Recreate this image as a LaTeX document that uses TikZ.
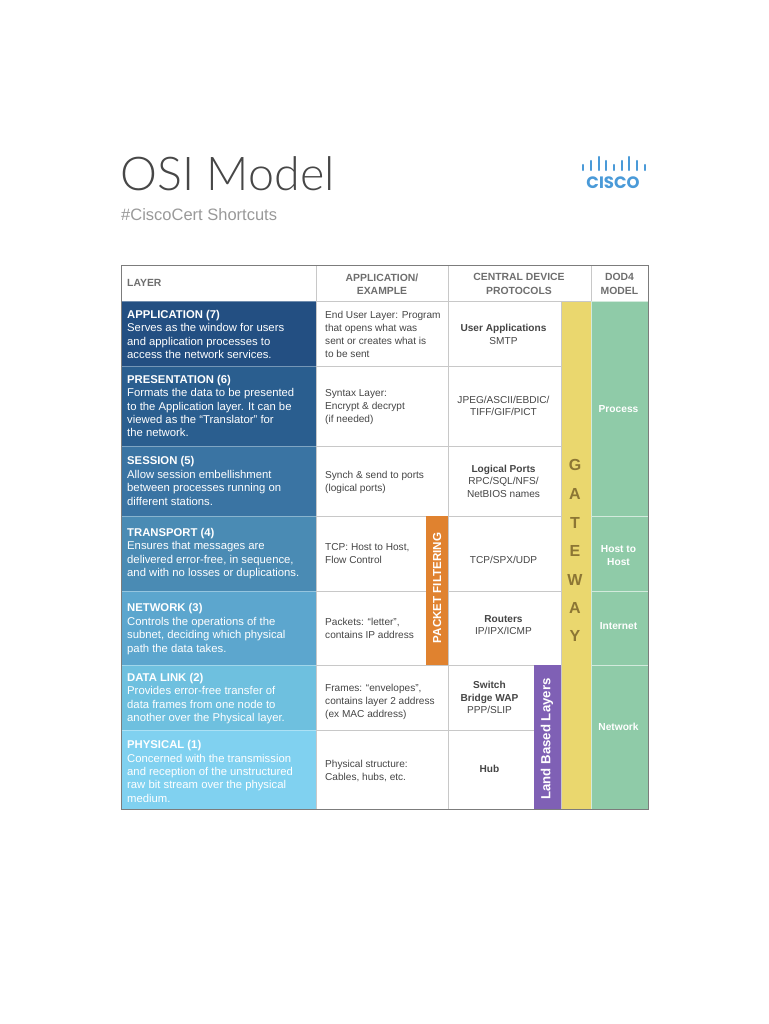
\documentclass[tikz,border=0pt]{standalone}
\usepackage{fontspec}
\setmainfont{Liberation Sans}
\newfontfamily\titlefont{Lato Light}
\newfontfamily\logofont{Poppins}
\definecolor{osi7}{HTML}{234F82}
\definecolor{osi6}{HTML}{2A5E8F}
\definecolor{osi5}{HTML}{3A74A3}
\definecolor{osi4}{HTML}{4A8BB4}
\definecolor{osi3}{HTML}{5CA6CE}
\definecolor{osi2}{HTML}{6EC0DF}
\definecolor{osi1}{HTML}{80D1F0}
\definecolor{gridgray}{HTML}{C8C8C8}
\definecolor{framegray}{HTML}{7C7C7C}
\definecolor{headgray}{HTML}{6E6E6E}
\definecolor{bodygray}{HTML}{444444}
\definecolor{gatebar}{HTML}{EAD76E}
\definecolor{gatetext}{HTML}{8C7634}
\definecolor{dodgreen}{HTML}{8FCBA8}
\definecolor{filterorange}{HTML}{E0822F}
\definecolor{landpurple}{HTML}{7F60B5}
\definecolor{ciscoblue}{HTML}{4A9AD8}
\tikzset{
  cellbox/.style={anchor=north west, inner sep=0, draw=gridgray, line width=0.7pt},
  layerbox/.style={cellbox, fill=#1, draw=#1!65!white, minimum width=195},
  layertext/.style={anchor=west, inner sep=0, text=white, align=left, font=\fontsize{11.3}{13.4}\selectfont},
  exampletext/.style={anchor=west, inner sep=0, text=bodygray, align=left, font=\fontsize{10.1}{13}\selectfont},
  prototext/.style={inner sep=0, text=bodygray, align=center, font=\fontsize{10.1}{12.6}\selectfont},
  headtext/.style={inner sep=0, text=headgray, align=center, font=\bfseries\fontsize{10.4}{13.2}\selectfont},
  dodtext/.style={inner sep=0, text=white, align=center, font=\bfseries\fontsize{10.2}{13}\selectfont},
  dodbox/.style={cellbox, fill=dodgreen, draw=white!60!dodgreen, minimum width=57},
  sidebar/.style={anchor=north west, inner sep=0},
  gateletter/.style={text=gatetext, inner sep=0, font=\bfseries\fontsize{16}{16}\selectfont},
  logobar/.style={ciscoblue, line width=2.3pt, line cap=round},
}
\begin{document}
\begin{tikzpicture}[x=1pt,y=-1pt]
  \useasboundingbox (0,0) rectangle (768,1024);
  % title
  \node[anchor=west, inner sep=0, text=black!72, font=\titlefont\fontsize{46.6}{47}\selectfont] (title) at (120,174) {OSI Model};
  \node[anchor=west, inner sep=0, text=black!40, font=\fontsize{16.5}{18}\selectfont] (subtitle) at (121,215) {\#CiscoCert Shortcuts};
  % logo
  \draw[logobar] (583,165) -- (583,170);
  \draw[logobar] (591,161) -- (591,170);
  \draw[logobar] (599,157) -- (599,170);
  \draw[logobar] (606,161) -- (606,170);
  \draw[logobar] (614,165) -- (614,170);
  \draw[logobar] (622,161) -- (622,170);
  \draw[logobar] (629,157) -- (629,170);
  \draw[logobar] (637,161) -- (637,170);
  \draw[logobar] (645,165) -- (645,170);
  \node[inner sep=0, text=ciscoblue, font=\logofont\bfseries\fontsize{16.5}{17}\selectfont] (cisco) at (613,183) {CISCO};
  % header
  \node[cellbox, minimum width=195, minimum height=36] (hdlayer) at (121,265) {};
  \node[cellbox, minimum width=132, minimum height=36] (hdexample) at (316,265) {};
  \node[cellbox, minimum width=143, minimum height=36] (hdproto) at (448,265) {};
  \node[cellbox, minimum width=57, minimum height=36] (hddod) at (591,265) {};
  \node[headtext, anchor=west] (hdlayertext) at (127,283) {LAYER};
  \node[headtext] (hdexampletext) at (382,284) {APPLICATION/\\EXAMPLE};
  \node[headtext] (hdprototext) at (519,284) {CENTRAL DEVICE\\PROTOCOLS};
  \node[headtext] (hddodtext) at (619.5,284) {DOD4\\MODEL};
  % layers
  \node[layerbox=osi7, minimum height=65] (app) at (121,301) {};
  \node[layerbox=osi6, minimum height=80] (pres) at (121,366) {};
  \node[layerbox=osi5, minimum height=70] (sess) at (121,446) {};
  \node[layerbox=osi4, minimum height=75] (trans) at (121,516) {};
  \node[layerbox=osi3, minimum height=74] (net) at (121,591) {};
  \node[layerbox=osi2, minimum height=65] (link) at (121,665) {};
  \node[layerbox=osi1, minimum height=79] (phys) at (121,730) {};
  \node[layertext] (apptext) at (127,334.5) {\textbf{APPLICATION (7)}\\Serves as the window for users\\and application processes to\\access the network services.};
  \node[layertext] (prestext) at (127,406) {\textbf{PRESENTATION (6)}\\Formats the data to be presented\\to the Application layer. It can be\\viewed as the “Translator” for\\the network.};
  \node[layertext] (sesstext) at (127,481) {\textbf{SESSION (5)}\\Allow session embellishment\\between processes running on\\different stations.};
  \node[layertext] (transtext) at (127,553.5) {\textbf{TRANSPORT (4)}\\Ensures that messages are\\delivered error-free, in sequence,\\and with no losses or duplications.};
  \node[layertext] (nettext) at (127,629) {\textbf{NETWORK (3)}\\Controls the operations of the\\subnet, deciding which physical\\path the data takes.};
  \node[layertext] (linktext) at (127,698.5) {\textbf{DATA LINK (2)}\\Provides error-free transfer of\\data frames from one node to\\another over the Physical layer.};
  \node[layertext] (physstext) at (127,771.5) {\textbf{PHYSICAL (1)}\\Concerned with the transmission\\and reception of the unstructured\\raw bit stream over the physical\\medium.};
  % examples
  \node[cellbox, minimum width=132, minimum height=65] (exapp) at (316,301) {};
  \node[cellbox, minimum width=132, minimum height=80] (expres) at (316,366) {};
  \node[cellbox, minimum width=132, minimum height=70] (exsess) at (316,446) {};
  \node[cellbox, minimum width=110, minimum height=75] (extrans) at (316,516) {};
  \node[cellbox, minimum width=110, minimum height=74] (exnet) at (316,591) {};
  \node[cellbox, minimum width=132, minimum height=65] (exlink) at (316,665) {};
  \node[cellbox, minimum width=132, minimum height=79] (exphys) at (316,730) {};
  \node[exampletext] (exapptext) at (325,334.5) {End User Layer: Program\\that opens what was\\sent or creates what is\\to be sent};
  \node[exampletext] (exprestext) at (325,407.5) {Syntax Layer:\\Encrypt \& decrypt\\(if needed)};
  \node[exampletext] (exsesstext) at (325,482) {Synch \& send to ports\\(logical ports)};
  \node[exampletext] (extranstext) at (325,553.5) {TCP: Host to Host,\\Flow Control};
  \node[exampletext] (exnettext) at (325,628.5) {Packets: “letter”,\\contains IP address};
  \node[exampletext] (exlinktext) at (325,701.5) {Frames: “envelopes”,\\contains layer 2 address\\(ex MAC address)};
  \node[exampletext] (exphystext) at (325,770.5) {Physical structure:\\Cables, hubs, etc.};
  % protocols
  \node[cellbox, minimum width=113, minimum height=65] (prapp) at (448,301) {};
  \node[cellbox, minimum width=113, minimum height=80] (prpres) at (448,366) {};
  \node[cellbox, minimum width=113, minimum height=70] (prsess) at (448,446) {};
  \node[cellbox, minimum width=113, minimum height=75] (prtrans) at (448,516) {};
  \node[cellbox, minimum width=113, minimum height=74] (prnet) at (448,591) {};
  \node[cellbox, minimum width=86, minimum height=65] (prlink) at (448,665) {};
  \node[cellbox, minimum width=86, minimum height=79] (prphys) at (448,730) {};
  \node[prototext] (prapptext) at (503.5,334.5) {\textbf{User Applications}\\SMTP};
  \node[prototext] (prprestext) at (503.5,406) {JPEG/ASCII/EBDIC/\\TIFF/GIF/PICT};
  \node[prototext] (prsesstext) at (503.5,481) {\textbf{Logical Ports}\\RPC/SQL/NFS/\\NetBIOS names};
  \node[prototext] (prtranstext) at (503.5,559.5) {TCP/SPX/UDP};
  \node[prototext] (prnettext) at (503.5,625) {\textbf{Routers}\\IP/IPX/ICMP};
  \node[prototext] (prlinktext) at (489.5,697.5) {\textbf{Switch}\\\textbf{Bridge WAP}\\PPP/SLIP};
  \node[prototext] (prphystext) at (489.5,768.5) {\textbf{Hub}};
  % side bars
  \node[sidebar, fill=filterorange, minimum width=22, minimum height=149] (filter) at (426,516) {};
  \node[rotate=90, inner sep=0, text=white, font=\bfseries\fontsize{11.6}{14}\selectfont] (filtertext) at (437,588) {PACKET FILTERING};
  \node[sidebar, fill=landpurple, minimum width=27, minimum height=144] (land) at (534,665) {};
  \node[rotate=90, inner sep=0, text=white, font=\bfseries\fontsize{13.2}{14}\selectfont] (landtext) at (547,739) {Land Based Layers};
  \node[sidebar, fill=gatebar, draw=gridgray, line width=0.5pt, minimum width=30, minimum height=508] (gate) at (561,301) {};
  \node[gateletter] (g1) at (575,465) {G};
  \node[gateletter] (g2) at (575,494) {A};
  \node[gateletter] (g3) at (575,523) {T};
  \node[gateletter] (g4) at (575,551) {E};
  \node[gateletter] (g5) at (575,580) {W};
  \node[gateletter] (g6) at (575,608) {A};
  \node[gateletter] (g7) at (575,636) {Y};
  % dod model
  \node[dodbox, minimum height=215] (process) at (591,301) {};
  \node[dodbox, minimum height=75] (host) at (591,516) {};
  \node[dodbox, minimum height=74] (internet) at (591,591) {};
  \node[dodbox, minimum height=144] (network) at (591,665) {};
  \node[dodtext] (processtext) at (618.5,409.5) {Process};
  \node[dodtext] (hosttext) at (618.5,555.5) {Host to\\Host};
  \node[dodtext] (internettext) at (618.5,626) {Internet};
  \node[dodtext] (networktext) at (618.5,727) {Network};
  % frame
  \draw[framegray, line width=1pt] (hdlayer.north west) rectangle (network.south east);
\end{tikzpicture}
\end{document}
